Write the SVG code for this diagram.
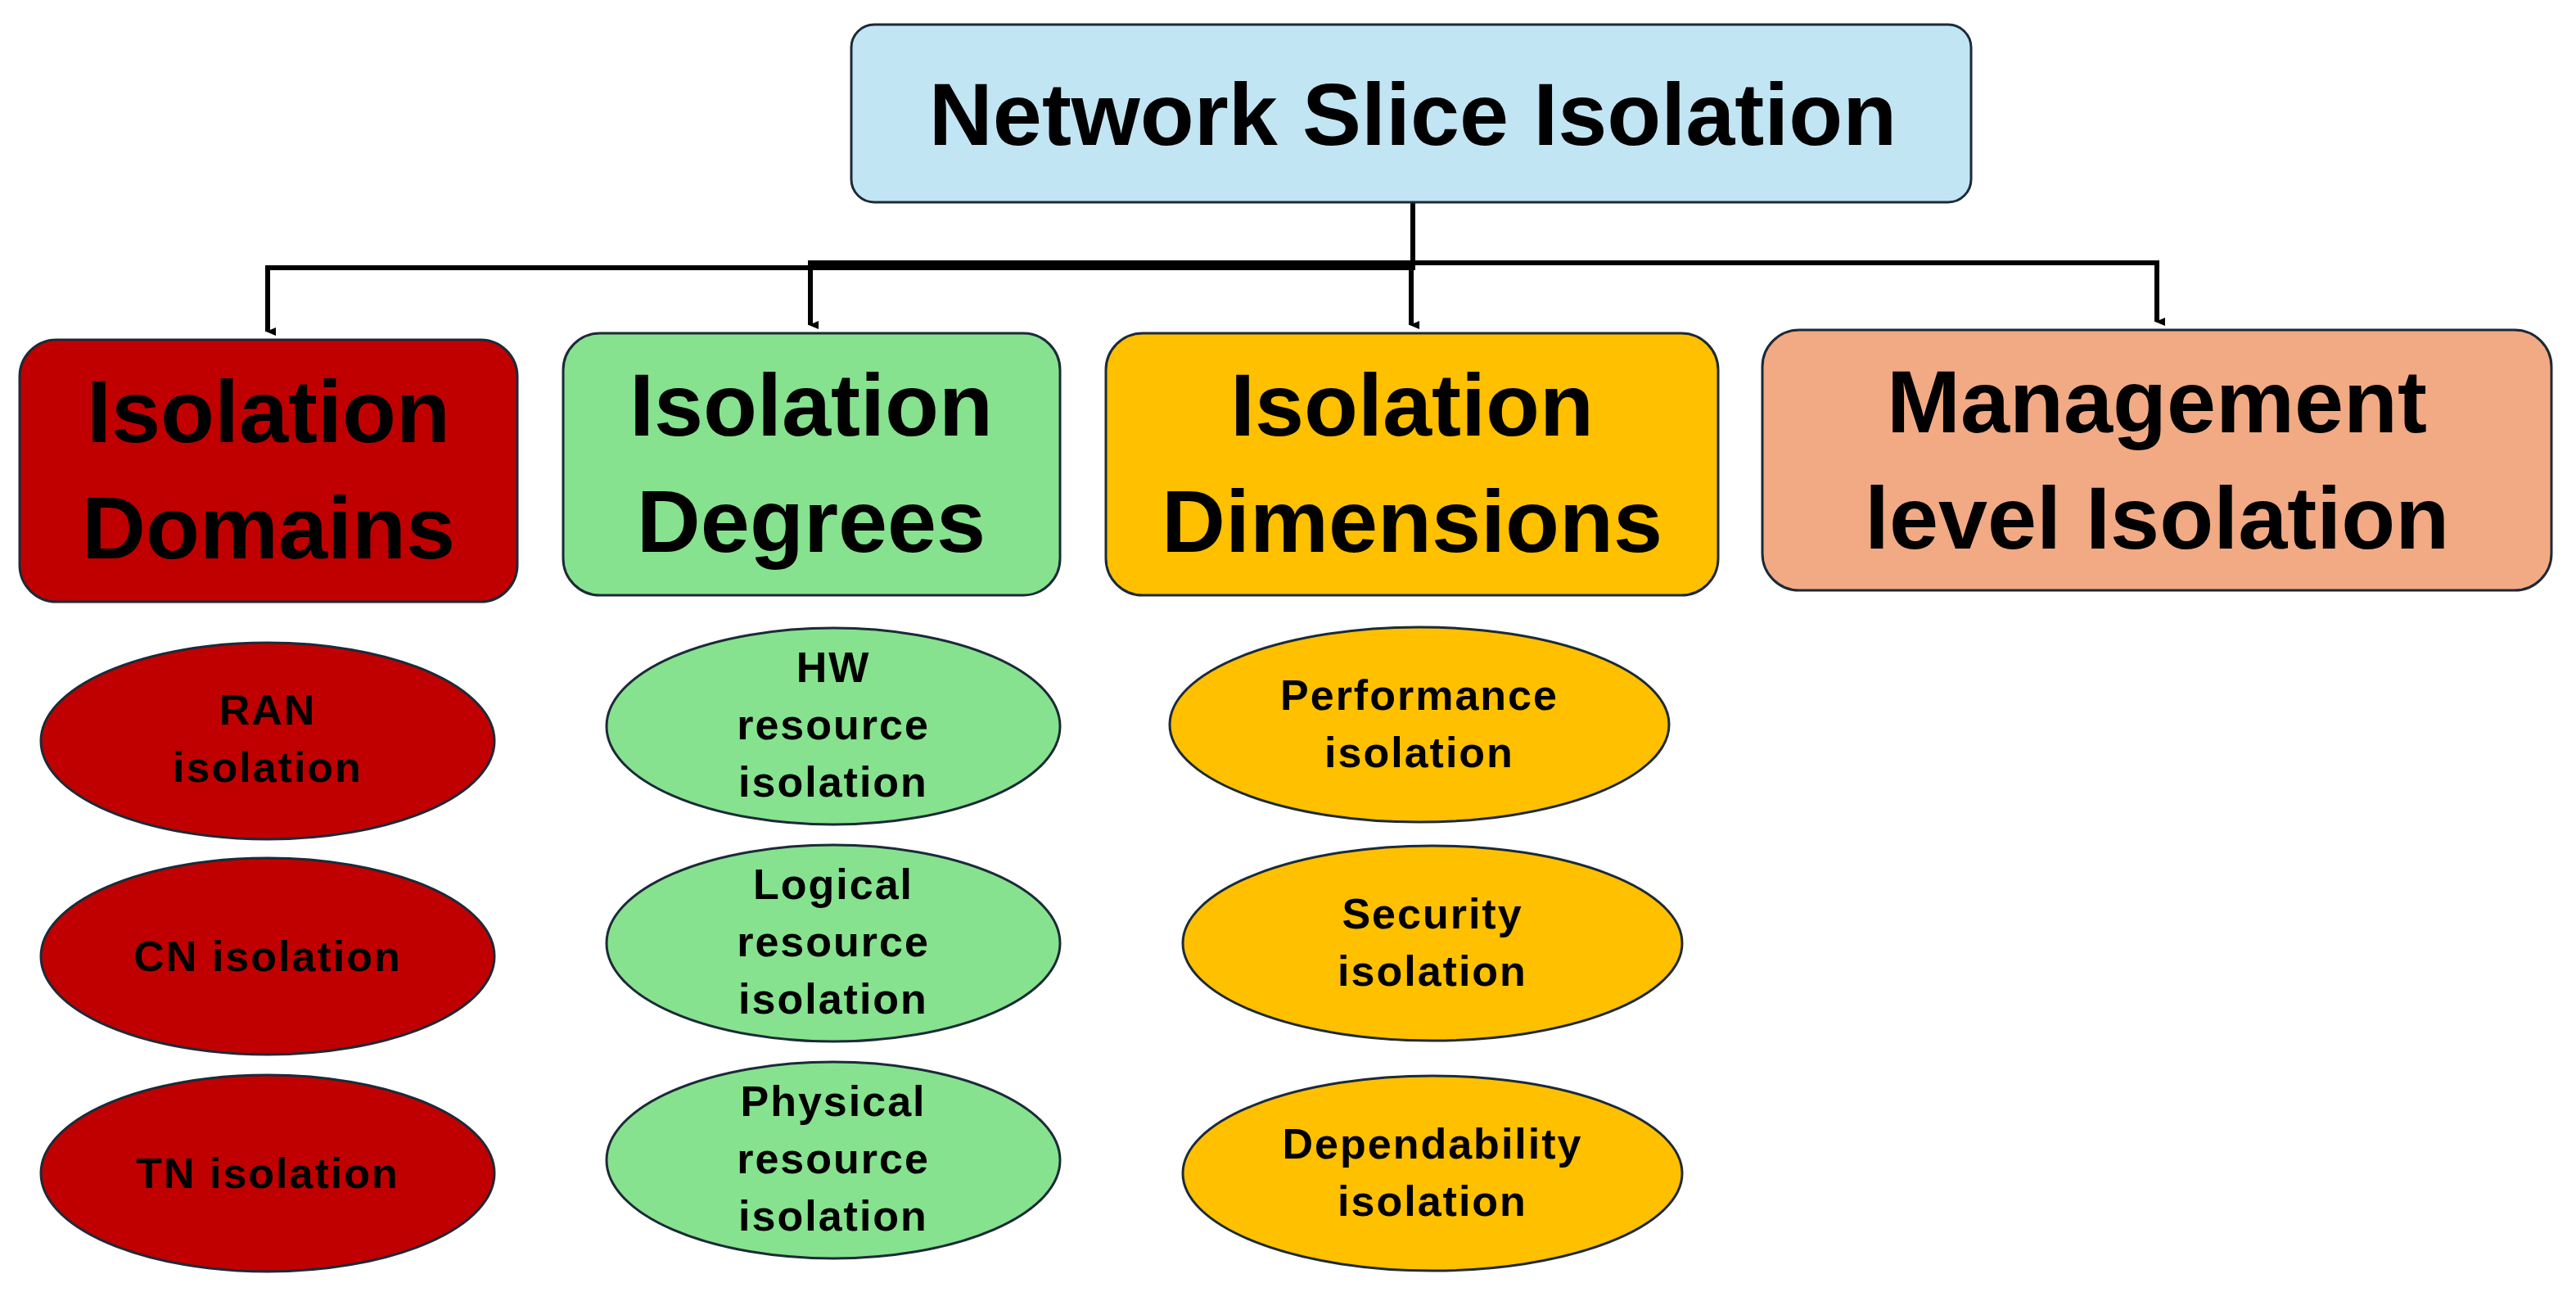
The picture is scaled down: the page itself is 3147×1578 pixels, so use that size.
<svg xmlns="http://www.w3.org/2000/svg" width="3147" height="1578" viewBox="0 0 3147 1578">
<defs>
<marker id="ah" markerWidth="10" markerHeight="12" refX="5" refY="10" orient="auto" markerUnits="userSpaceOnUse" viewBox="0 0 10 12"><path d="M0,0 L10,0 L5,12 Z" fill="#000"/></marker>
<style>
.bx{stroke:#1c2a38;stroke-width:3}
.el{stroke:#1c2a38;stroke-width:3}
.big{font-family:"Liberation Sans",Arial,sans-serif;font-weight:bold;font-size:108px;fill:#000;text-anchor:middle}
.sm{font-family:"Liberation Sans",Arial,sans-serif;font-weight:bold;font-size:52px;fill:#000;text-anchor:middle;letter-spacing:2px}
.ln{stroke:#000;stroke-width:6;fill:none}
</style>
</defs>
<rect width="3147" height="1578" fill="#fff"/>
<g id="connectors">
<path class="ln" d="M1726,247 V327 H327 V405" marker-end="url(#ah)"/>
<path class="ln" d="M1726,321 H990 V397" marker-end="url(#ah)"/>
<path class="ln" d="M1724,327 V397" marker-end="url(#ah)"/>
<path class="ln" d="M1726,321 H2635 V393" marker-end="url(#ah)"/>
</g>
<g id="root"><rect class="bx" x="1040" y="30" width="1368" height="217" rx="28" fill="#C2E5F4"/><text class="big" x="1726" y="177">Network Slice Isolation</text></g>
<g id="domains"><rect class="bx" x="24" y="415" width="608" height="320" rx="45" fill="#C00000"/><text class="big" x="328" y="540">Isolation</text><text class="big" x="328" y="682">Domains</text></g>
<g id="degrees"><rect class="bx" x="688" y="407" width="607" height="320" rx="45" fill="#86E28E"/><text class="big" x="991" y="532">Isolation</text><text class="big" x="991" y="674">Degrees</text></g>
<g id="dimensions"><rect class="bx" x="1351" y="407" width="748" height="320" rx="45" fill="#FFC000"/><text class="big" x="1725" y="532">Isolation</text><text class="big" x="1725" y="674">Dimensions</text></g>
<g id="management"><rect class="bx" x="2153" y="403" width="964" height="318" rx="45" fill="#F1AA84"/><text class="big" x="2635" y="528">Management</text><text class="big" x="2635" y="670">level Isolation</text></g>
<g id="ran"><ellipse class="el" cx="327" cy="905" rx="277" ry="120" fill="#C00000"/><text class="sm" x="327" y="885">RAN</text><text class="sm" x="327" y="955">isolation</text></g>
<g id="cn"><ellipse class="el" cx="327" cy="1168" rx="277" ry="120" fill="#C00000"/><text class="sm" x="327" y="1186">CN isolation</text></g>
<g id="tn"><ellipse class="el" cx="327" cy="1433" rx="277" ry="120" fill="#C00000"/><text class="sm" x="327" y="1451">TN isolation</text></g>
<g id="hw"><ellipse class="el" cx="1018" cy="887" rx="277" ry="120" fill="#86E28E"/><text class="sm" x="1018" y="833">HW</text><text class="sm" x="1018" y="903">resource</text><text class="sm" x="1018" y="973">isolation</text></g>
<g id="logical"><ellipse class="el" cx="1018" cy="1152" rx="277" ry="120" fill="#86E28E"/><text class="sm" x="1018" y="1098">Logical</text><text class="sm" x="1018" y="1168">resource</text><text class="sm" x="1018" y="1238">isolation</text></g>
<g id="physical"><ellipse class="el" cx="1018" cy="1417" rx="277" ry="120" fill="#86E28E"/><text class="sm" x="1018" y="1363">Physical</text><text class="sm" x="1018" y="1433">resource</text><text class="sm" x="1018" y="1503">isolation</text></g>
<g id="performance"><ellipse class="el" cx="1734" cy="885" rx="305" ry="119" fill="#FFC000"/><text class="sm" x="1734" y="867">Performance</text><text class="sm" x="1734" y="937">isolation</text></g>
<g id="security"><ellipse class="el" cx="1750" cy="1152" rx="305" ry="119" fill="#FFC000"/><text class="sm" x="1750" y="1134">Security</text><text class="sm" x="1750" y="1204">isolation</text></g>
<g id="dependability"><ellipse class="el" cx="1750" cy="1433" rx="305" ry="119" fill="#FFC000"/><text class="sm" x="1750" y="1415">Dependability</text><text class="sm" x="1750" y="1485">isolation</text></g>
</svg>
